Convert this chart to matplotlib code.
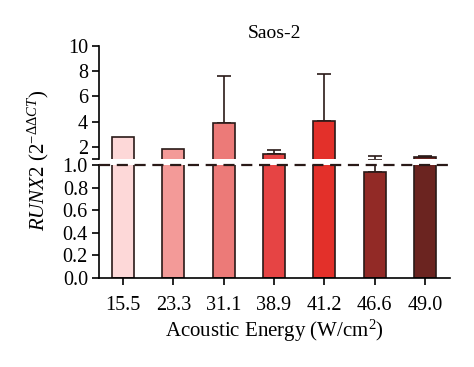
import matplotlib
matplotlib.use("Agg")
import matplotlib.pyplot as plt
import numpy as np

categories = ["15.5", "23.3", "31.1", "38.9", "41.2", "46.6", "49.0"]
values = [2.75, 1.84, 3.9, 1.44, 4.04, 0.94, 1.16]
errors = [0.0, 0.0, 3.7, 0.31, 3.76, 0.32, 0.1]
colors = ["#fdd8d8", "#f39a98", "#ec7a78", "#e64444", "#e3302a", "#922a26", "#6b2420"]
top_ticks = [1, 2, 4, 6, 8, 10]
top_ticklabels = ["", "2", "4", "6", "8", "10"]
bot_ticks = [0.0, 0.2, 0.4, 0.6, 0.8, 1.0]
bot_ticklabels = ["0.0", "0.2", "0.4", "0.6", "0.8", "1.0"]

plt.rcParams['font.family'] = ['Liberation Serif', 'DejaVu Serif']
plt.rcParams['mathtext.fontset'] = 'custom'
plt.rcParams['mathtext.rm'] = 'Liberation Serif'
plt.rcParams['mathtext.it'] = 'Liberation Serif:italic'

W, H = 474, 367
fig = plt.figure(figsize=(W / 100, H / 100), dpi=100)

left = 99 / W
width = (450 - 99) / W
ax_top = fig.add_axes([left, 1 - 159.3 / H, width, (159.3 - 46) / H])
ax_bot = fig.add_axes([left, 1 - 278 / H, width, (278 - 165) / H])

x = np.arange(len(categories))
for ax in (ax_top, ax_bot):
    ax.bar(x, values, width=0.44, color=colors, edgecolor="#2a1a18", linewidth=1.2, zorder=2)
    for xi, v, e in zip(x, values, errors):
        if e > 0:
            ax.errorbar(xi, v, yerr=[[0], [e]], fmt="none", ecolor="#2a1a18",
                        elinewidth=1.2, capsize=5, capthick=1.2, zorder=1)
    ax.set_xlim(-0.48, 6.5)
    for s in ("top", "right"):
        ax.spines[s].set_visible(False)
    ax.spines["left"].set_linewidth(1.2)
    ax.tick_params(axis="y", direction="out", length=5, width=1.2, labelsize=14.5, pad=3)

ax_top.set_ylim(1, 10)
ax_top.set_yticks(top_ticks)
ax_top.set_yticklabels(top_ticklabels)
ax_top.spines["bottom"].set_visible(False)
ax_top.tick_params(axis="x", bottom=False, labelbottom=False)

ax_bot.set_ylim(0, 1)
ax_bot.set_yticks(bot_ticks)
ax_bot.set_yticklabels(bot_ticklabels)
ax_bot.set_xticks(x)
ax_bot.set_xticklabels(categories)
ax_bot.spines["bottom"].set_linewidth(1.2)
ax_bot.tick_params(axis="x", direction="out", length=5, width=1.2, labelsize=14.5, pad=8)
ax_bot.axhline(1.0, color="#2a1a18", linestyle=(0, (5, 3)), linewidth=1.6, clip_on=False, zorder=3)

ax_top.set_title("Saos-2", fontsize=14, pad=6)
ax_bot.set_xlabel(r"Acoustic Energy (W/cm$^2$)", fontsize=15, labelpad=2)
fig.text(38 / W, 1 - 160 / H, r"$\it{RUNX2}$ (2$^{\it{-\Delta\Delta CT}}$)", rotation=90,
         ha="center", va="center", fontsize=15)

fig.savefig("out.png", dpi=100)
